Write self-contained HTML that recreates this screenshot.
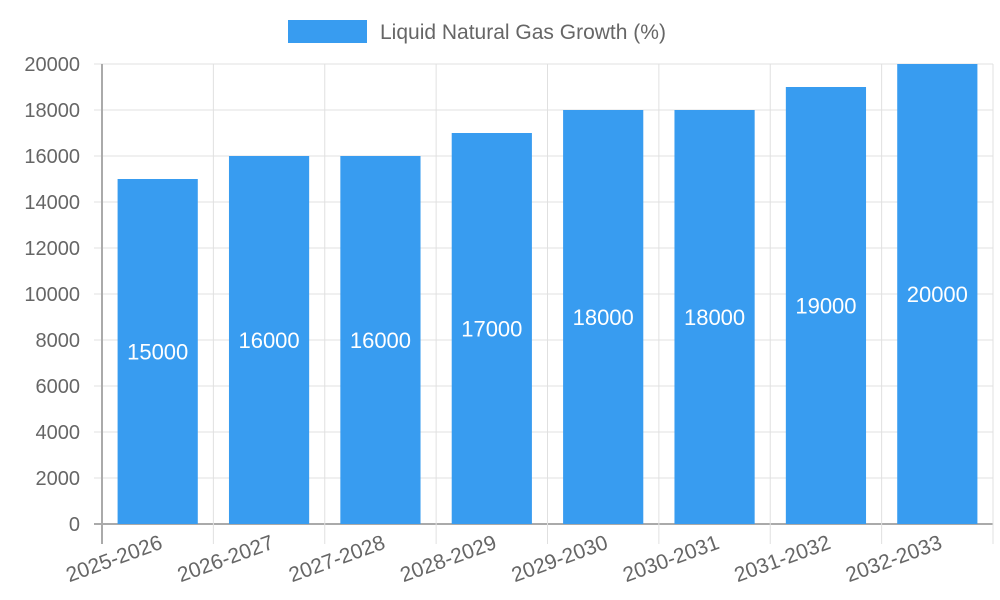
<!DOCTYPE html>
<html><head><meta charset="utf-8"><style>body{margin:0;background:#fff}svg{display:block;font-family:"Liberation Sans",sans-serif}</style></head>
<body>
<svg id="c" width="1000" height="600"></svg>
<script>
const categories=["2025-2026","2026-2027","2027-2028","2028-2029","2029-2030","2030-2031","2031-2032","2032-2033"];
const values=[15000,16000,16000,17000,18000,18000,19000,20000];
const yTicks=[0,2000,4000,6000,8000,10000,12000,14000,16000,18000,20000];
const seriesName="Liquid Natural Gas Growth (%)";
const L=102,R=993,T=64,B=524,yMax=20000;
const svg=document.getElementById('c');
const ns='http://www.w3.org/2000/svg';
const y=v=>B-(v/yMax)*(B-T);
const bw=(R-L)/categories.length;
const x=i=>L+i*bw;
function mk(t,a,p){const e=document.createElementNS(ns,t);for(const k in a)e.setAttribute(k,a[k]);(p||svg).appendChild(e);return e;}
// legend
const lg=mk('g',{});


mk('rect',{x:288,y:20,width:79,height:23,fill:'#389cf0'},lg);
const lt=mk('text',{x:380,y:39,'font-size':21,fill:'#666'},lg);lt.textContent=seriesName;
// y grid + labels
yTicks.forEach(v=>{
  const g=mk('line',{x1:L-8,x2:R,y1:y(v),y2:y(v),stroke:v===0?'#aaa':'#e0e0e0','stroke-width':v===0?2:1});
  
  
  const t=mk('text',{x:80,y:y(v)+7,'font-size':20,fill:'#666','text-anchor':'end'});
  
  
  t.textContent=v;
});
// x grid
for(let i=0;i<=categories.length;i++){
  const g=mk('line',{x1:x(i),x2:x(i),y1:T,y2:B+20,stroke:i===0?'#aaa':'#e0e0e0','stroke-width':i===0?2:1});
  
  
}
// bars
categories.forEach((c,i)=>{
  const cx=x(i)+bw/2, w=bw*0.72;
  const r=mk('rect',{x:cx-w/2,y:y(values[i]),width:w,height:B-y(values[i]),fill:'#389cf0'});
  
  
  const vt=mk('text',{x:cx,y:(y(values[i])+B)/2+8,'font-size':22,fill:'#fff','text-anchor':'middle'});
  
  
  vt.textContent=values[i];
  const xt=mk('text',{x:cx+6,y:548,'font-size':21,fill:'#666','text-anchor':'end',transform:`rotate(-20 ${cx+6} 548)`});
  
  
  xt.textContent=c;
});
</script>
</body></html>
